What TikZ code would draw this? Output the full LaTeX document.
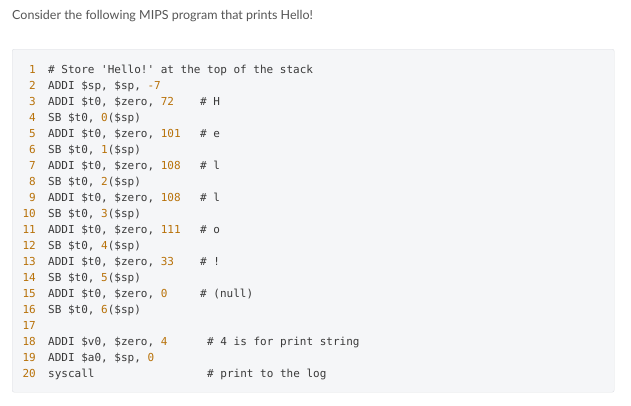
\documentclass[tikz,border=0pt]{standalone}
\usepackage{fontspec}
\setmainfont{Lato}
\newfontfamily\code{DejaVu Sans Mono}
\definecolor{bgc}{HTML}{F5F6F8}
\definecolor{bdc}{HTML}{DDDFE3}
\definecolor{txt}{HTML}{3A3A3A}
\definecolor{org}{HTML}{B8720A}
\definecolor{ttl}{HTML}{555555}
\newcommand{\nm}[1]{\textcolor{org}{#1}}
\tikzset{
  cl/.style={anchor=base west,inner sep=0pt,font=\code\fontsize{11}{13}\selectfont,text=txt},
  ln/.style={anchor=base east,inner sep=0pt,font=\code\fontsize{11}{13}\selectfont,text=org},
}
\begin{document}
\begin{tikzpicture}[x=1pt,y=-1pt]
\useasboundingbox (0,0) rectangle (631,405);
\node[anchor=base west,inner sep=0pt,text=ttl,font=\fontsize{12.5}{15}\selectfont] (title) at (12,19) {Consider the following MIPS program that prints Hello!};
\node[draw=bdc,fill=bgc,rounded corners=2pt,minimum width=602pt,minimum height=343pt,anchor=north west,inner sep=0pt] (box) at (12,49) {};
\foreach \i/\t [count=\k] in {
 1/{\# Store \char39Hello!\char39\ at the top of the stack},
 2/{ADDI \$sp, \$sp, \nm{-7}},
 3/{ADDI \$t0, \$zero, \nm{72}},
 4/{SB \$t0, \nm{0}(\$sp)},
 5/{ADDI \$t0, \$zero, \nm{101}},
 6/{SB \$t0, \nm{1}(\$sp)},
 7/{ADDI \$t0, \$zero, \nm{108}},
 8/{SB \$t0, \nm{2}(\$sp)},
 9/{ADDI \$t0, \$zero, \nm{108}},
 10/{SB \$t0, \nm{3}(\$sp)},
 11/{ADDI \$t0, \$zero, \nm{111}},
 12/{SB \$t0, \nm{4}(\$sp)},
 13/{ADDI \$t0, \$zero, \nm{33}},
 14/{SB \$t0, \nm{5}(\$sp)},
 15/{ADDI \$t0, \$zero, \nm{0}},
 16/{SB \$t0, \nm{6}(\$sp)},
 17/{},
 18/{ADDI \$v0, \$zero, \nm{4}},
 19/{ADDI \$a0, \$sp, \nm{0}},
 20/{syscall}}{
  \node[ln] (n\i) at (36,{73+(\i-1)*16.05}) {\i};
  \node[cl] (c\i) at (48,{73+(\i-1)*16.05}) {\t};
}
\foreach \i/\t in {3/{\# H},5/{\# e},7/{\# l},9/{\# l},11/{\# o},13/{\# !},15/{\# (null)}}{
  \node[cl] (m\i) at (200,{73+(\i-1)*16.05}) {\t};
}
\foreach \i/\t in {18/{\# 4 is for print string},20/{\# print to the log}}{
  \node[cl] (m\i) at (207,{73+(\i-1)*16.05}) {\t};
}
\end{tikzpicture}
\end{document}
